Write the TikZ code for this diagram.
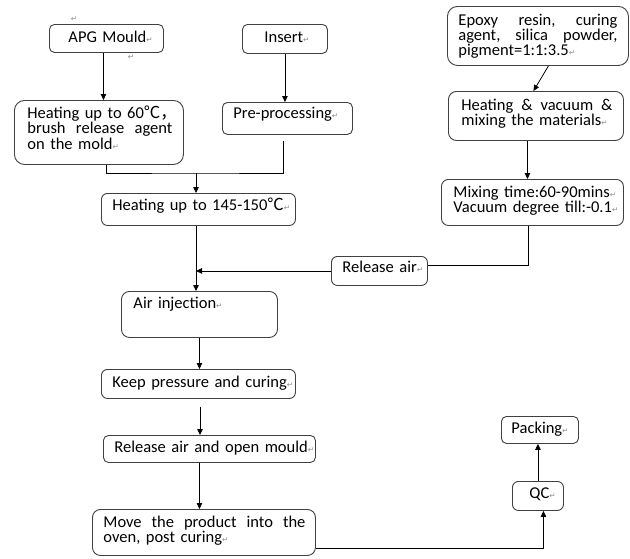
\documentclass[tikz,border=0pt]{standalone}
\usepackage{fontspec}
\setmainfont{Carlito}
\newfontfamily\cjkf{Noto Sans CJK SC}
\newfontfamily\symf{DejaVu Sans}
\usetikzlibrary{arrows.meta}
\newcommand{\retmark}{{\color{black!45}\fontsize{7.5}{7.5}\selectfont\symf ↵}}
\newcommand{\degc}{{\cjkf ℃}}
\newcommand{\jline}[2]{\leavevmode\hbox to #1{#2}}
\tikzset{
  box/.style={draw=black!75, line width=0.9pt, anchor=north west, inner ysep=0pt,
    align=left, font=\fontsize{16.5}{14}\selectfont},
  arr/.style={draw=black, line width=0.8pt, -{Triangle[length=6pt,width=5.5pt]}},
  ln/.style={draw=black, line width=0.8pt},
  retnode/.style={inner sep=0pt, anchor=center}
}
\begin{document}
\begin{tikzpicture}[x=1pt,y=-1pt]
\useasboundingbox[fill=white] (0,0) rectangle (630,558);
% boxes
\node[box, rounded corners=5pt, inner xsep=19pt, text width=76pt, text height=18pt, text depth=10pt] (apg) at (49,24) {\mbox{APG Mould\retmark}};
\node[box, rounded corners=5pt, inner xsep=22pt, text width=41pt, text height=18pt, text depth=11pt] (insert) at (242,24) {\mbox{Insert\retmark}};
\node[box, rounded corners=10pt, inner xsep=13pt, text width=143pt, text height=18pt, text depth=46pt] (heat60) at (14,100) {\mbox{Heating up to 60\degc{\cjkf ，}}\\\jline{145pt}{brush\hfill release\hfill agent}\\\mbox{on the mold\retmark}};
\node[box, rounded corners=5pt, inner xsep=11pt, text width=108pt, text height=16pt, text depth=16pt] (pre) at (222,102) {\mbox{Pre-processing\retmark}};
\node[box, rounded corners=10pt, inner xsep=11pt, text width=159pt, text height=19pt, text depth=40pt] (epoxy) at (447,6) {\jline{159pt}{Epoxy\hfill resin,\hfill curing}\\\jline{159pt}{agent,\hfill silica\hfill powder,}\\\mbox{pigment=1:1:3.5\retmark}};
\node[box, rounded corners=8pt, inner xsep=13pt, text width=149pt, text height=19pt, text depth=30pt] (hv) at (448,91) {\jline{151pt}{Heating\hfill \&\hfill vacuum\hfill \&}\\\mbox{mixing the materials\retmark}};
\node[box, rounded corners=7pt, inner xsep=12pt, text width=158pt, text height=18pt, text depth=28pt] (mix) at (441,179) {\mbox{Mixing time:60-90mins\retmark}\\\mbox{Vacuum degree till:-0.1\retmark}};
\node[box, rounded corners=6pt, inner xsep=11pt, text width=172pt, text height=17pt, text depth=15pt] (heat145) at (101,193) {\mbox{Heating up to 145-150\degc\retmark}};
\node[box, rounded corners=8pt, inner xsep=12pt, text width=132pt, text height=17pt, text depth=29pt] (air) at (121,291) {\mbox{Air injection\retmark}};
\node[box, rounded corners=6pt, inner xsep=11pt, text width=74pt, text height=16pt, text depth=13pt] (rel) at (331,256) {\mbox{Release air\retmark}};
\node[box, rounded corners=6pt, inner xsep=11pt, text width=172pt, text height=18pt, text depth=11pt] (keep) at (101,369) {\mbox{Keep pressure and curing\retmark}};
\node[box, rounded corners=5pt, inner xsep=11pt, text width=190pt, text height=17pt, text depth=10pt] (relopen) at (103,435) {\mbox{Release air and open mould\retmark}};
\node[box, rounded corners=8pt, inner xsep=11pt, text width=201pt, text height=18pt, text depth=28pt] (move) at (92,509) {\jline{202pt}{Move\hfill the\hfill product\hfill into\hfill the}\\\mbox{oven, post curing\retmark}};
\node[box, rounded corners=5pt, inner xsep=10pt, text width=57pt, text height=17pt, text depth=10pt] (pack) at (501,416) {\mbox{Packing\retmark}};
\node[box, rounded corners=6pt, inner xsep=17pt, text width=17pt, text height=17pt, text depth=12pt] (qc) at (512,481) {\mbox{QC\retmark}};
% stray paragraph marks
\node[retnode] (m1) at (74,19) {\retmark};
\node[retnode] (m2) at (131,57) {\retmark};
% junctions
\coordinate (j1) at (196,173);
\coordinate (j2) at (200,407);
% connectors
\draw[arr] ([xshift=-3pt]apg.south) -- ([xshift=4.5pt]heat60.north);
\draw[arr] (insert.south) -- (insert.south |- pre.north);
\draw[arr] ([xshift=10.5pt]epoxy.south) -- ([xshift=-2.5pt]hv.north);
\draw[arr] ([xshift=-8.5pt]hv.south) -- ([xshift=-5pt]mix.north);
\draw[ln] ([xshift=7.5pt]heat60.south) |- (j1) -| ([xshift=-4pt,yshift=-6pt]pre.south);
\draw[arr] (j1) -- (heat145.north -| j1);
\draw[arr] (heat145.south -| j1) -- (air.north -| j1);
\draw[ln] ([xshift=-4pt]mix.south) |- ([yshift=5.5pt]rel.east);
\draw[arr] (rel.west) -- (rel.west -| j1);
\draw[arr] (air.south) -- (air.south |- keep.north);
\draw[arr] (j2) -- (j2 |- relopen.north);
\draw[arr] ([xshift=-10pt]relopen.south) -- ([xshift=-4.5pt]move.north);
\draw[arr] ([yshift=-16pt]move.east) -| ([xshift=5.5pt]qc.south);
\draw[arr] (qc.north) -- (qc.north |- pack.south);
\end{tikzpicture}
\end{document}
